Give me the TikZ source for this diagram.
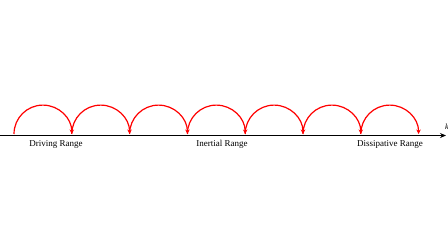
\documentclass[tikz,border=0pt]{standalone}
\usepackage{fontspec}
\setmainfont{Liberation Serif}
\usetikzlibrary{arrows.meta}
\begin{document}
\begin{tikzpicture}[x=1pt,y=-1pt,
  axisline/.style={line width=1.4pt,-{Stealth[length=6pt,width=5pt]}},
  hop/.style={red,line width=1.2pt,-{Stealth[length=4.5pt,width=4.5pt]}},
  rangelabel/.style={font=\fontsize{9}{10}\selectfont,inner sep=0pt}]
\useasboundingbox (0,0) rectangle (448,252);
\coordinate (a0) at (0,135.5);
\coordinate (a1) at (446,135.5);
\draw[axisline] (a0) -- (a1);
\node[font=\fontsize{8}{9}\selectfont\itshape,inner sep=0pt] (k) at (447,127) {k};
\foreach \i in {0,...,6}{
  \coordinate (p\i) at ({14+57.8*\i},134);
  \draw[hop] (p\i) arc[start angle=180,end angle=360,radius=28.9];
}
\node[rangelabel] (drv) at (56,144.5) {Driving Range};
\node[rangelabel] (inr) at (222,144.5) {Inertial Range};
\node[rangelabel] (dis) at (390,144.5) {Dissipative Range};
\end{tikzpicture}
\end{document}
